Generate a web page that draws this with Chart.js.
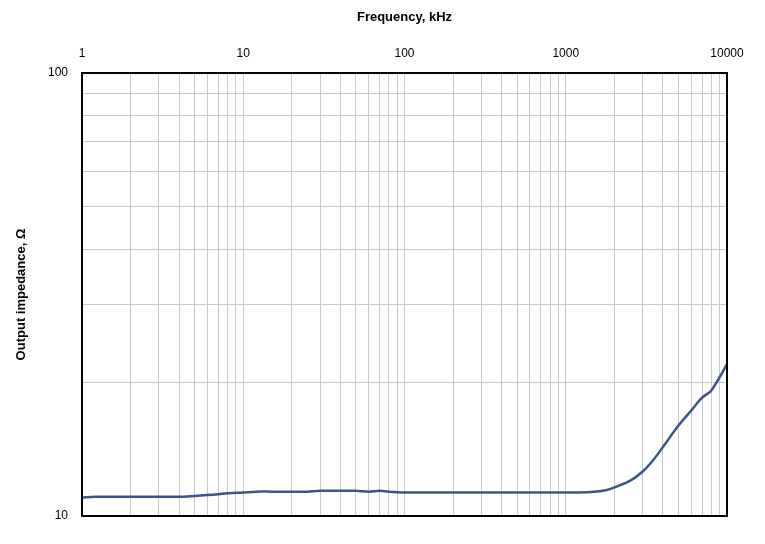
<!DOCTYPE html>
<html>
<head>
<meta charset="utf-8">
<script src="https://cdn.jsdelivr.net/npm/chart.js@4/dist/chart.umd.min.js"></script>
<style>
  body { margin: 0; background: #fff; }
  #wrap { width: 765px; height: 544px; }
</style>
</head>
<body>
<div id="wrap"><canvas id="chart"></canvas></div>
<script>
// frequency in kHz and output impedance in ohms
const freqs = [1, 1.2, 1.5, 2, 2.5, 3, 4, 5, 6, 7, 8, 10, 12, 15, 20, 25, 30, 40, 50, 60, 70, 80,
    100, 120, 150, 200, 250, 300, 400, 500, 600, 800, 1000, 1200, 1500, 1800, 2000, 2500, 3000,
    3500, 4000, 5000, 6000, 7000, 8000, 10000];
const impedance = [11.0, 11.05, 11.05, 11.05, 11.05, 11.05, 11.05, 11.1, 11.15, 11.2, 11.25, 11.3,
    11.35, 11.35, 11.35, 11.35, 11.4, 11.4, 11.4, 11.35, 11.4, 11.35, 11.3, 11.3, 11.3, 11.3, 11.3,
    11.3, 11.3, 11.3, 11.3, 11.3, 11.3, 11.3, 11.35, 11.45, 11.6, 12.0, 12.6, 13.4, 14.3, 16.0,
    17.3, 18.5, 19.2, 22.0];
const xDecades = [1, 10, 100, 1000, 10000];
const yDecades = [10, 100];
const mantissas = [1, 2, 3, 4, 5, 6, 7, 8, 9];

const points = freqs.map((f, i) => ({ x: f, y: impedance[i] }));

// grid ticks: 1..9 within each decade, plus the closing decade
function logTicks(decades) {
    const t = [];
    for (let d = 0; d < decades.length - 1; d++) {
        mantissas.forEach(m => t.push({ value: m * decades[d] }));
    }
    t.push({ value: decades[decades.length - 1] });
    return t;
}

new Chart(document.getElementById("chart"), {
    type: "scatter",
    data: {
        datasets: [{
            data: points,
            showLine: true,
            borderColor: "#3a5488",
            borderWidth: 2.5,
            pointRadius: 0,
            tension: 0.3
        }]
    },
    options: {
        responsive: true,
        maintainAspectRatio: false,
        animation: false,
        layout: { padding: { left: 10, right: 38, top: 8, bottom: 28 } },
        plugins: { legend: { display: false }, tooltip: { enabled: false } },
        scales: {
            x: {
                type: "logarithmic",
                position: "top",
                min: 1, max: 10000,
                title: {
                    display: true, text: "Frequency, kHz", color: "#000",
                    padding: { top: 2, bottom: 12 },
                    font: { family: "Liberation Sans", size: 13, weight: "bold" }
                },
                grid: { color: "#c8c8c8", lineWidth: 1, drawTicks: false },
                border: { color: "#000", width: 2 },
                afterBuildTicks: s => { s.ticks = logTicks(xDecades); },
                ticks: {
                    color: "#000", font: { family: "Liberation Sans", size: 12 },
                    maxRotation: 0, autoSkip: false, padding: 12,
                    callback: v => xDecades.includes(v) ? String(v) : ""
                },
                afterFit: s => { s.height = 65; }
            },
            y: {
                type: "logarithmic",
                min: 10, max: 100,
                title: {
                    display: true, text: "Output impedance, Ω", color: "#000",
                    font: { family: "Liberation Sans", size: 13, weight: "bold" }
                },
                grid: { color: "#c8c8c8", lineWidth: 1, drawTicks: false },
                border: { color: "#000", width: 2 },
                afterBuildTicks: s => { s.ticks = logTicks(yDecades); },
                ticks: {
                    color: "#000", font: { family: "Liberation Sans", size: 12 },
                    autoSkip: false, padding: 14,
                    callback: v => yDecades.includes(v) ? String(v) : ""
                },
                afterFit: s => { s.width = 72; }
            }
        }
    },
    plugins: [{
        // frame around the plot area
        id: "frame",
        afterDraw(chart) {
            const a = chart.chartArea, c = chart.ctx;
            c.save();
            c.strokeStyle = "#000";
            c.lineWidth = 2;
            c.strokeRect(a.left, a.top, a.right - a.left, a.bottom - a.top);
            c.restore();
        }
    }]
});
</script>
</body>
</html>
